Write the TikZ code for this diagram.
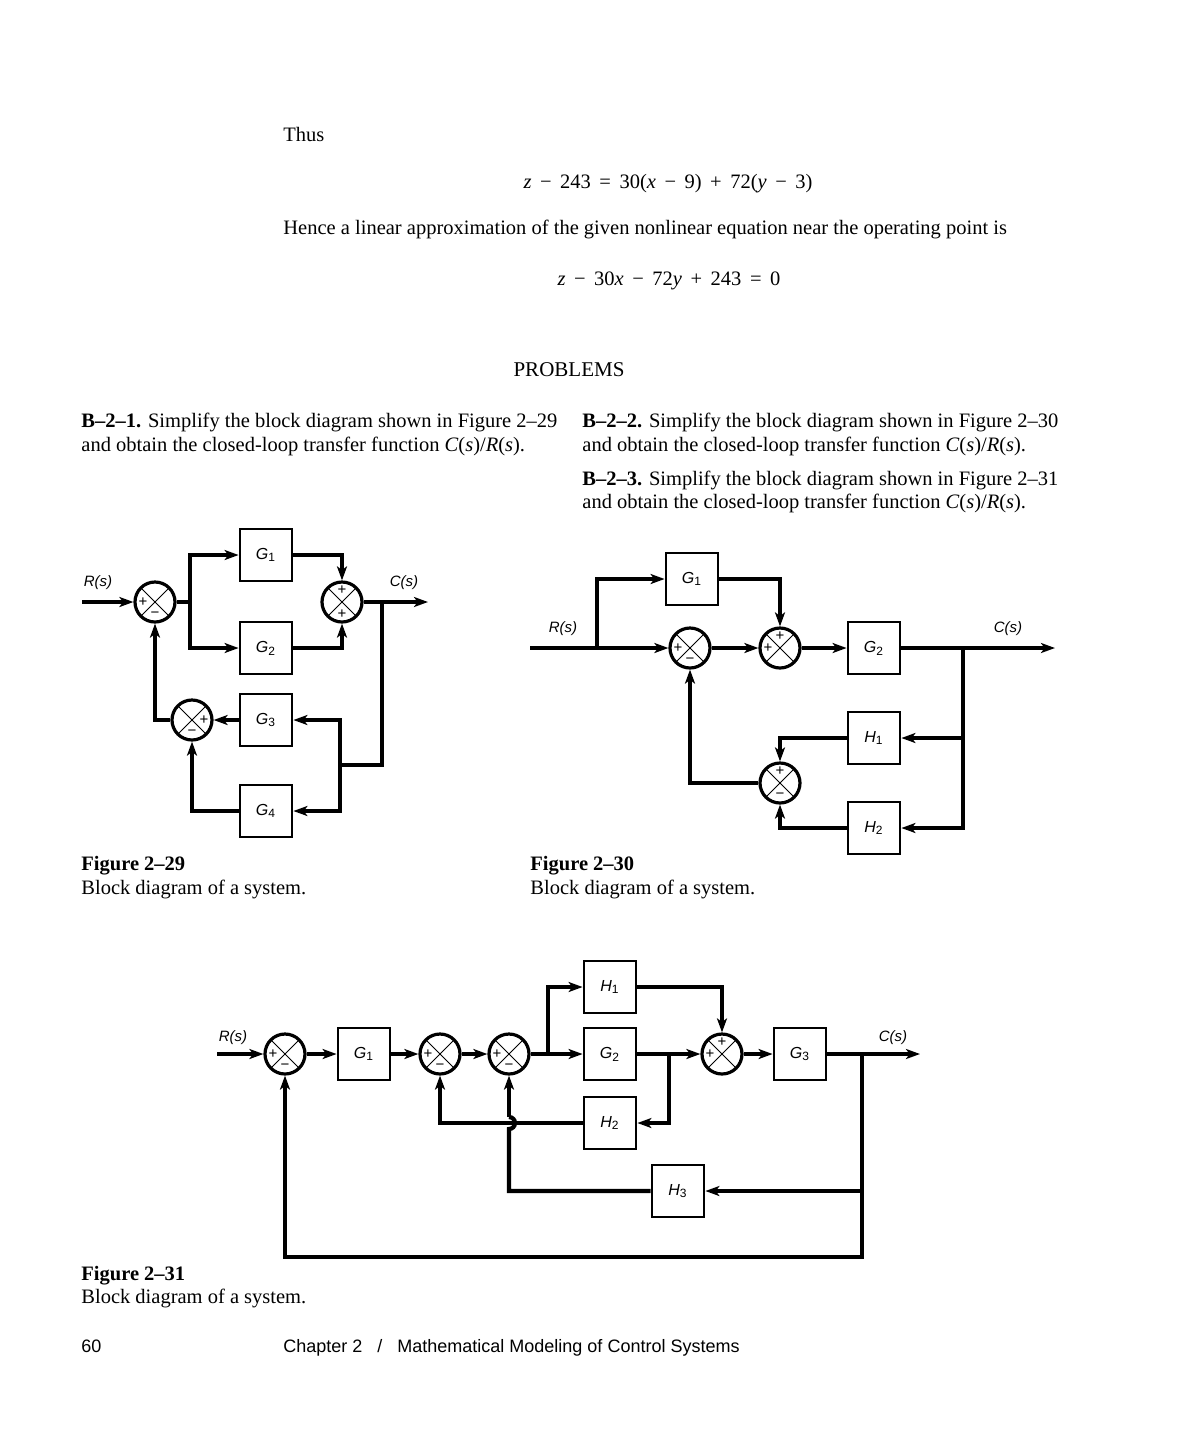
\documentclass[tikz,border=0pt]{standalone}
\usepackage{fontspec}
\setmainfont{Liberation Serif}
\newfontfamily\lbl{Liberation Sans}
\usetikzlibrary{arrows.meta}
\newcommand{\blab}[2]{\textit{#1}\textsubscript{#2}}
\begin{document}
\begin{tikzpicture}[x=0.5pt,y=-0.5pt,
  wire/.style={line width=2.1pt},
  arr/.style={-{Stealth[length=7pt,width=5pt,inset=1.8pt]}},
  blk/.style={draw,line width=1.4pt,minimum width=26pt,minimum height=26pt,inner sep=0pt,font=\lbl\fontsize{8}{9}\selectfont},
  sumc/.style={circle,draw,line width=1.6pt,minimum size=20pt,inner sep=0pt,
    path picture={\draw[line width=0.5pt] (path picture bounding box.south west) -- (path picture bounding box.north east) (path picture bounding box.north west) -- (path picture bounding box.south east);}},
  sgn/.style={font=\lbl\fontsize{7.5}{7.5}\selectfont,inner sep=0pt},
  lab/.style={font=\lbl\fontsize{7.5}{8}\selectfont\itshape,inner sep=0pt},
  txt/.style={anchor=base west,inner sep=0pt,font=\fontsize{10.25}{12}\selectfont},
  ctxt/.style={anchor=base,inner sep=0pt,font=\fontsize{10.25}{12}\selectfont},
]
\useasboundingbox[fill=white] (0,0) rectangle (1200,1448);

% ---------------- text ----------------
\node[txt] (t1) at (283,141) {Thus};
\node[ctxt] (t2) at (668,188) {\textit{z} \,−\, 243 \,=\, 30(\textit{x} \,−\, 9) \,+\, 72(\textit{y} \,−\, 3)};
\node[txt] (t3) at (283,234) {Hence a linear approximation of the given nonlinear equation near the operating point is};
\node[ctxt] (t4) at (669,285) {\textit{z} \,−\, 30\textit{x} \,−\, 72\textit{y} \,+\, 243 \,=\, 0};
\node[ctxt,font=\fontsize{10.5}{12}\selectfont] (t5) at (569,376) {PROBLEMS};
\node[txt] (p1a) at (81,427) {\textbf{B–2–1.} Simplify the block diagram shown in Figure 2–29};
\node[txt] (p1b) at (81,451) {and obtain the closed-loop transfer function \textit{C}(\textit{s})/\textit{R}(\textit{s}).};
\node[txt] (p2a) at (582,427) {\textbf{B–2–2.} Simplify the block diagram shown in Figure 2–30};
\node[txt] (p2b) at (582,451) {and obtain the closed-loop transfer function \textit{C}(\textit{s})/\textit{R}(\textit{s}).};
\node[txt] (p3a) at (582,485) {\textbf{B–2–3.} Simplify the block diagram shown in Figure 2–31};
\node[txt] (p3b) at (582,508) {and obtain the closed-loop transfer function \textit{C}(\textit{s})/\textit{R}(\textit{s}).};
\node[txt] (f1a) at (81,870) {\textbf{Figure 2–29}};
\node[txt] (f1b) at (81,894) {Block diagram of a system.};
\node[txt] (f2a) at (530,870) {\textbf{Figure 2–30}};
\node[txt] (f2b) at (530,894) {Block diagram of a system.};
\node[txt] (f3a) at (81,1280) {\textbf{Figure 2–31}};
\node[txt] (f3b) at (81,1303) {Block diagram of a system.};
\node[txt,font=\lbl\fontsize{9}{10}\selectfont] (pg) at (81,1352) {60};
\node[txt,font=\lbl\fontsize{9}{10}\selectfont] (ch) at (283,1352) {Chapter 2 \ \ / \ \ Mathematical Modeling of Control Systems};

% ---------------- Figure 2-29 ----------------
\coordinate (ain) at (82,602);
\node[sumc] (a1) at (155,602) {};
\coordinate (abr) at (190,602);
\node[blk] (aG1) at (266,555) {\blab{G}{1}};
\node[blk] (aG2) at (266,648) {\blab{G}{2}};
\node[sumc] (a2) at (342,602) {};
\coordinate (abr2) at (382,602);
\coordinate (aout) at (428,602);
\coordinate (afb) at (340,765);
\node[blk] (aG3) at (266,720) {\blab{G}{3}};
\node[blk] (aG4) at (266,811) {\blab{G}{4}};
\node[sumc] (a3) at (192,720) {};
\node[lab] (aR) at (98,583) {R(s)};
\node[lab] (aC) at (404,583) {C(s)};
\node[sgn] at ([xshift=-6pt]a1.center) {+};
\node[sgn] at ([yshift=-6.5pt]a1.center) {−};
\node[sgn] at ([yshift=6pt]a2.center) {+};
\node[sgn] at ([yshift=-6pt]a2.center) {+};
\node[sgn] at ([xshift=6pt]a3.center) {+};
\node[sgn] at ([yshift=-6.5pt]a3.center) {−};

\draw[wire,arr] (ain) -- (a1);
\draw[wire] (a1) -- (abr);
\draw[wire,arr] (abr) |- (aG1);
\draw[wire,arr] (abr) |- (aG2);
\draw[wire,arr] (aG1) -| (a2);
\draw[wire,arr] (aG2) -| (a2);
\draw[wire,arr] (a2) -- (aout);
\draw[wire] (abr2) |- (afb);
\draw[wire,arr] (afb) |- (aG3);
\draw[wire,arr] (afb) |- (aG4);
\draw[wire,arr] (aG3) -- (a3);
\draw[wire,arr] (aG4) -| (a3);
\draw[wire,arr] (a3) -| (a1);

% ---------------- Figure 2-30 ----------------
\coordinate (bin) at (530,648);
\coordinate (bbr) at (597,648);
\node[blk] (bG1) at (692,579) {\blab{G}{1}};
\node[sumc] (b1) at (690,648) {};
\node[sumc] (b2) at (780,648) {};
\node[blk] (bG2) at (874,648) {\blab{G}{2}};
\coordinate (bbr2) at (963,648);
\coordinate (bout) at (1055,648);
\node[blk] (bH1) at (874,738) {\blab{H}{1}};
\node[blk] (bH2) at (874,828) {\blab{H}{2}};
\node[sumc] (b3) at (780,783) {};
\node[lab] (bR) at (563,629) {R(s)};
\node[lab] (bC) at (1008,629) {C(s)};
\node[sgn] at ([xshift=-6pt]b1.center) {+};
\node[sgn] at ([yshift=-6.5pt]b1.center) {−};
\node[sgn] at ([yshift=6pt]b2.center) {+};
\node[sgn] at ([xshift=-6pt]b2.center) {+};
\node[sgn] at ([yshift=6pt]b3.center) {+};
\node[sgn] at ([yshift=-6.5pt]b3.center) {−};

\draw[wire] (bin) -- (bbr);
\draw[wire,arr] (bbr) -- (b1);
\draw[wire,arr] (bbr) |- (bG1);
\draw[wire,arr] (bG1) -| (b2);
\draw[wire,arr] (b1) -- (b2);
\draw[wire,arr] (b2) -- (bG2);
\draw[wire,arr] (bG2) -- (bout);
\draw[wire,arr] (bbr2) |- (bH1);
\draw[wire,arr] (bbr2) |- (bH2);
\draw[wire,arr] (bH1) -| (b3);
\draw[wire,arr] (bH2) -| (b3);
\draw[wire,arr] (b3) -| (b1);

% ---------------- Figure 2-31 ----------------
\coordinate (cin) at (217,1054);
\node[sumc] (c1) at (285,1054) {};
\node[blk] (cG1) at (364,1054) {\blab{G}{1}};
\node[sumc] (c2) at (440,1054) {};
\node[sumc] (c3) at (509,1054) {};
\coordinate (cbr) at (548,1054);
\node[blk] (cH1) at (610,987) {\blab{H}{1}};
\node[blk] (cG2) at (610,1054) {\blab{G}{2}};
\node[blk] (cH2) at (610,1123) {\blab{H}{2}};
\coordinate (cbr2) at (669,1054);
\node[sumc] (c4) at (722,1054) {};
\node[blk] (cG3) at (800,1054) {\blab{G}{3}};
\coordinate (cbr3) at (862,1054);
\coordinate (cout) at (920,1054);
\node[blk] (cH3) at (678,1191) {\blab{H}{3}};
\coordinate (cbot) at (862,1257);
\coordinate (hop) at (509,1123);
\node[lab] (cR) at (233,1038) {R(s)};
\node[lab] (cC) at (893,1038) {C(s)};
\node[sgn] at ([xshift=-6pt]c1.center) {+};
\node[sgn] at ([yshift=-6.5pt]c1.center) {−};
\node[sgn] at ([xshift=-6pt]c2.center) {+};
\node[sgn] at ([yshift=-6.5pt]c2.center) {−};
\node[sgn] at ([xshift=-6pt]c3.center) {+};
\node[sgn] at ([yshift=-6.5pt]c3.center) {−};
\node[sgn] at ([yshift=6pt]c4.center) {+};
\node[sgn] at ([xshift=-6pt]c4.center) {+};

\draw[wire,arr] (cin) -- (c1);
\draw[wire,arr] (c1) -- (cG1);
\draw[wire,arr] (cG1) -- (c2);
\draw[wire,arr] (c2) -- (c3);
\draw[wire] (c3) -- (cbr);
\draw[wire,arr] (cbr) |- (cH1);
\draw[wire,arr] (cbr) -- (cG2);
\draw[wire] (cG2) -- (cbr2);
\draw[wire,arr] (cbr2) -- (c4);
\draw[wire,arr] (cbr2) |- (cH2);
\draw[wire,arr] (cH1) -| (c4);
\draw[wire,arr] (c4) -- (cG3);
\draw[wire,arr] (cG3) -- (cout);
\draw[wire,arr] (cbr3) |- (cH3);
\draw[wire,arr] (cbr3) -- (cbot) -| (c1);
\draw[wire,arr] (cH2) -| (c2);
\draw[wire] (cH3) -| ([yshift=-3pt]hop) arc[start angle=-90,end angle=90,radius=3pt];
\draw[wire,arr] ([yshift=3pt]hop) -- (c3);
\end{tikzpicture}
\end{document}
